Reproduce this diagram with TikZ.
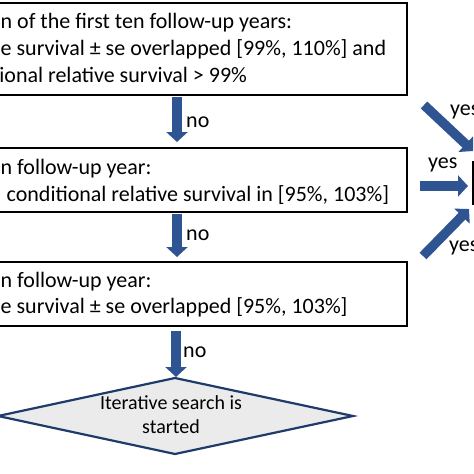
\documentclass[tikz,border=0pt]{standalone}
\usepackage{fontspec}
\setmainfont{Carlito}
\usetikzlibrary{arrows.meta}
\definecolor{arrblue}{HTML}{2E5592}
\definecolor{dianavy}{HTML}{1F3B6A}
\definecolor{diafill}{HTML}{EBEBEB}
\tikzset{
  boxline/.style={draw=black, line width=2.6pt},
  btxt/.style={anchor=base west, inner sep=0pt, font=\fontsize{22}{26}\selectfont},
  lbl/.style={anchor=base west, inner sep=0pt, font=\fontsize{22}{26}\selectfont},
  dtxt/.style={align=center, inner sep=0pt, font=\fontsize{20}{24}\selectfont},
  fat/.style={draw=arrblue, line width=9.5pt,
    -{Triangle[width=21pt,length=10pt]}, arrblue},
}
\begin{document}
\begin{tikzpicture}[x=1pt,y=-1pt]
\useasboundingbox (0,0) rectangle (474,474);
\clip (0,0) rectangle (474,474);
% boxes
\node[boxline, minimum width=487pt, minimum height=92pt, inner sep=0pt] (box1) at (163.5,49) {};
\node[boxline, minimum width=487pt, minimum height=64pt, inner sep=0pt] (box2) at (163.5,180) {};
\node[boxline, minimum width=487pt, minimum height=64pt, inner sep=0pt] (box3) at (163.5,294) {};
\node[boxline, minimum width=40pt, minimum height=42pt, inner sep=0pt] (rbox) at (493,183) {};
% box texts
\node[btxt] (t11) at (0.5,28) {n of the first ten follow-up years:};
\node[btxt] (t12) at (0.5,55) {e survival ± se overlapped [99\%, 110\%] and};
\node[btxt] (t13) at (-0.8,82) {ional relative survival > 99\%};
\node[btxt] (t21) at (0.5,174) {n follow-up year:};
\node[btxt] (t22) at (6.5,201) {conditional relative survival in [95\%, 103\%]};
\node[btxt] (t31) at (0.5,287) {n follow-up year:};
\node[btxt] (t32) at (0.5,313) {e survival ± se overlapped [95\%, 103\%]};
% diamond
\coordinate (dtop) at (175,378);
\coordinate (dright) at (353,416);
\coordinate (dbot) at (175,454);
\coordinate (dleft) at (-2,416);
\draw[dianavy, fill=diafill, line width=2.2pt, line join=miter] (dtop) -- (dright) -- (dbot) -- (dleft) -- cycle;
\node[dtxt] (dlabel) at (171,415) {Iterative search is\\started};
% down arrows
\coordinate (a1s) at (177,97);
\coordinate (a1e) at (177,142);
\coordinate (a2s) at (177,214);
\coordinate (a2e) at (177,257);
\coordinate (a3s) at (176,331);
\coordinate (a3e) at (176,377);
\draw[fat] (a1s) -- (a1e);
\draw[fat] (a2s) -- (a2e);
\draw[fat] (a3s) -- (a3e);
\node[lbl] (n1) at (186,127) {no};
\node[lbl] (n2) at (186,240) {no};
\node[lbl] (n3) at (183,357) {no};
% right arrows
\coordinate (r1s) at (424,105);
\coordinate (r1e) at (473,151);
\coordinate (r2s) at (420,186);
\coordinate (r2e) at (468,186);
\coordinate (r3s) at (423,256);
\coordinate (r3e) at (469,209);
\draw[fat] (r1s) -- (r1e);
\draw[fat] (r2s) -- (r2e);
\draw[fat] (r3s) -- (r3e);
\node[lbl] (y1) at (450,115) {yes};
\node[lbl] (y2) at (428,168) {yes};
\node[lbl] (y3) at (449,251) {yes};
\end{tikzpicture}
\end{document}
